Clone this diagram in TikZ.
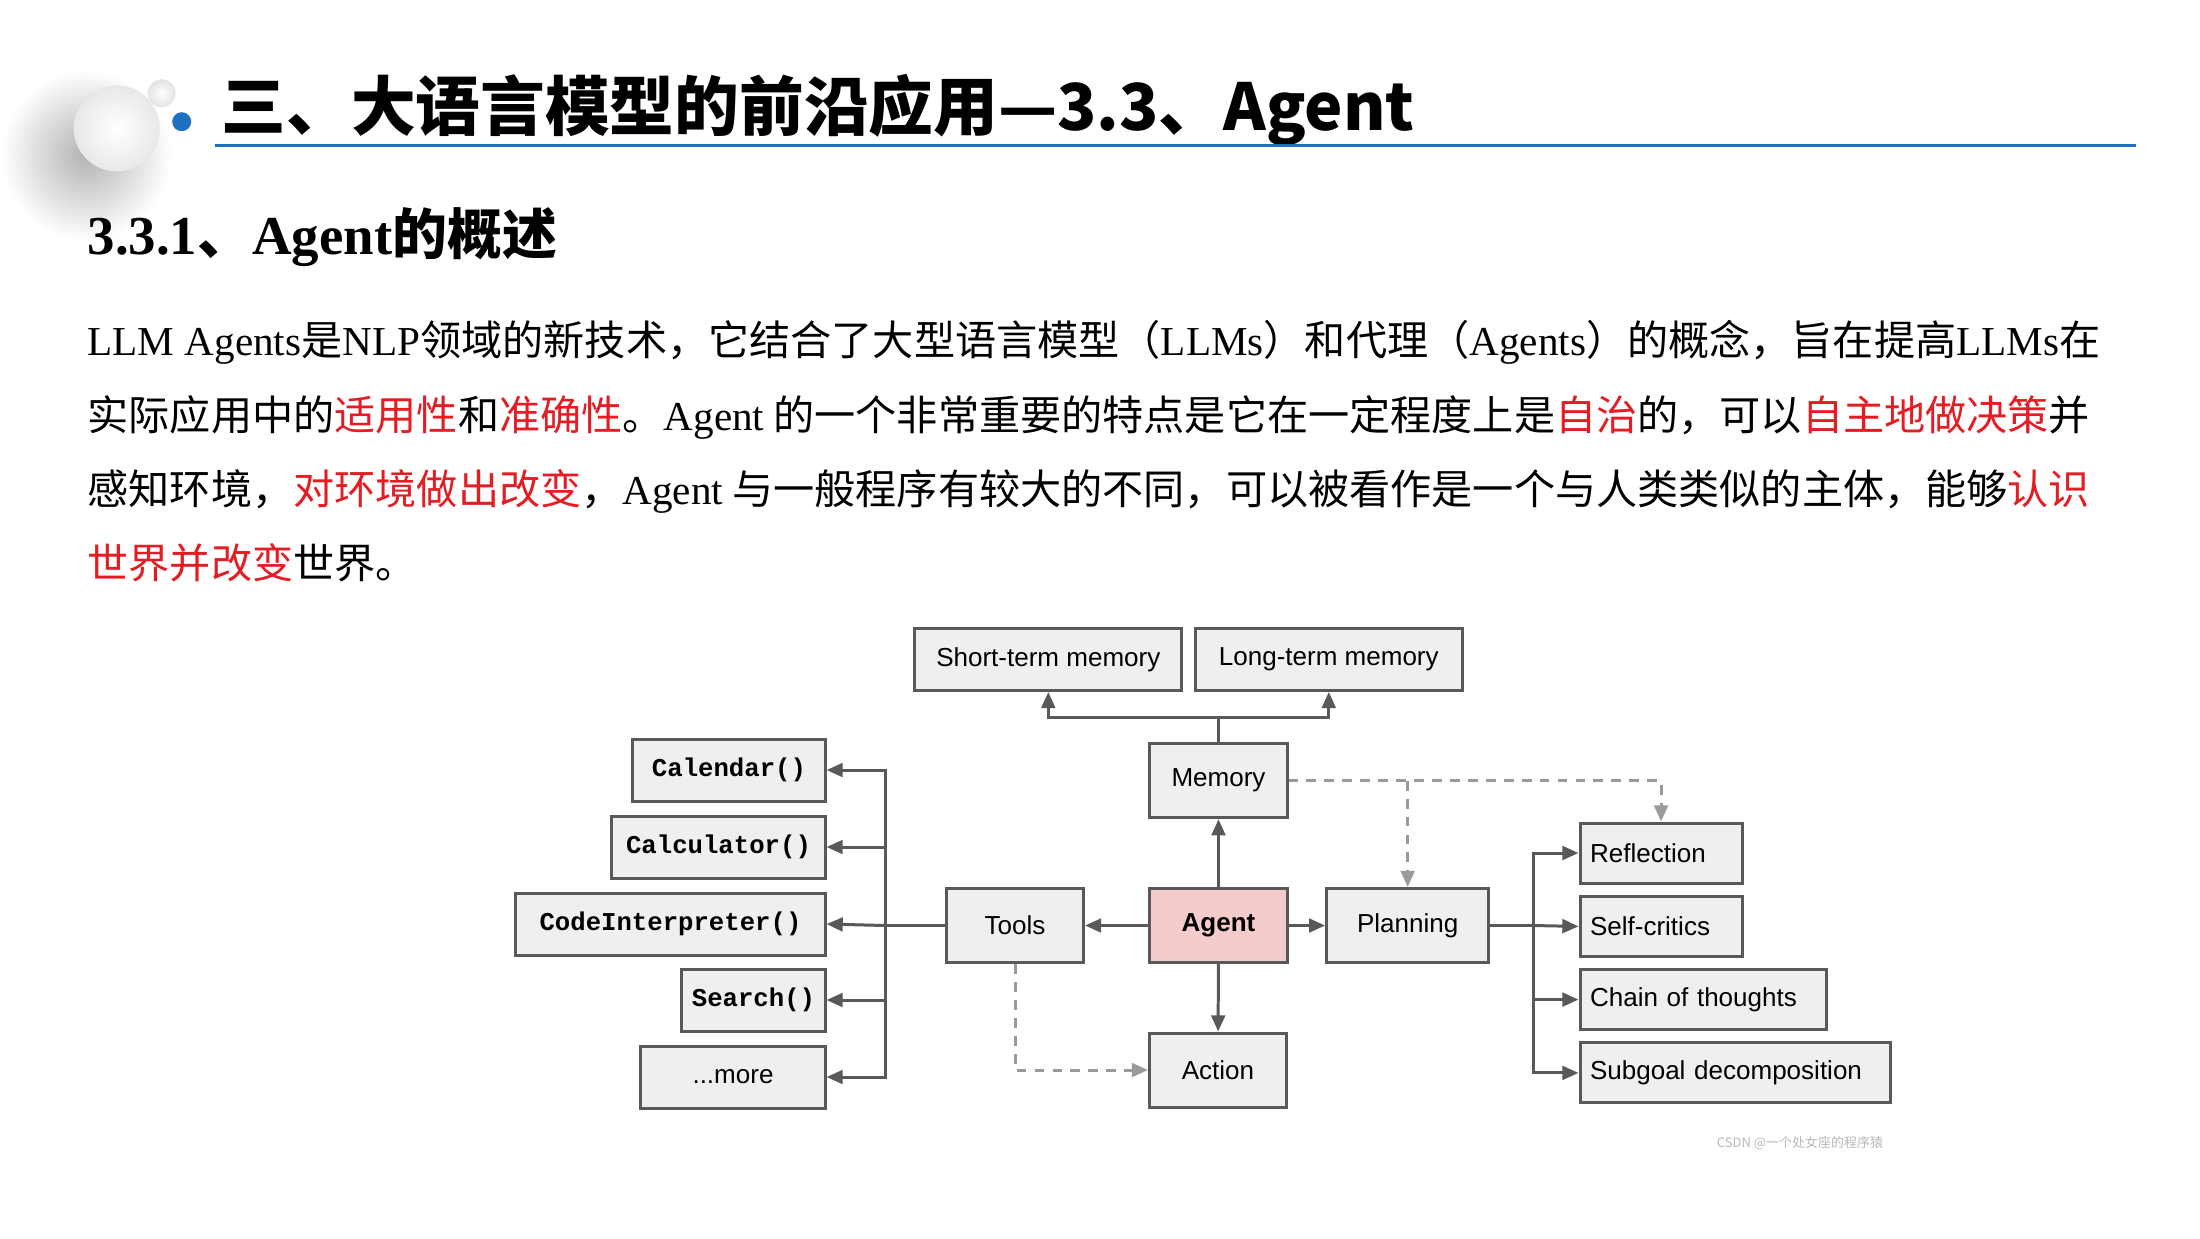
\documentclass[tikz,border=0pt]{standalone}
\usepackage{fontspec}
\setmainfont{Liberation Serif}
\newfontfamily\cjk{Noto Sans CJK SC}
\newfontfamily\arialf{Liberation Sans}
\newfontfamily\monof{Liberation Mono}
\usetikzlibrary{arrows.meta}
\definecolor{boxfill}{HTML}{EFEFEF}
\definecolor{boxline}{HTML}{595959}
\definecolor{agentfill}{HTML}{F4CCCC}
\definecolor{dashgray}{HTML}{9A9A9A}
\definecolor{hlred}{RGB}{228,28,36}
\definecolor{titleblue}{RGB}{30,112,192}
\newcommand\E[1]{{\rmfamily #1}}
\newcommand\R[1]{{\color{hlred}#1}}
\tikzset{
  dbox/.style={draw=boxline, fill=boxfill, line width=0.85pt, inner sep=0pt,
    font=\arialf\fontsize{7.4pt}{8.8pt}\selectfont, text=black},
  mbox/.style={dbox, font=\monof\bfseries\fontsize{7.3pt}{8.8pt}\selectfont},
  lbox/.style={dbox, align=left, inner xsep=2.85pt},
  conn/.style={draw=boxline, line width=0.85pt},
  arr/.style={conn, -{Triangle[length=4.6pt,width=3.9pt]}},
  darr/.style={draw=dashgray, line width=0.85pt, dash pattern=on 2.8pt off 2.3pt,
    -{Triangle[length=4.6pt,width=3.9pt]}},
  para/.style={anchor=base west, inner sep=0pt, font=\cjk\fontsize{11.7pt}{14pt}\selectfont}
}
\begin{document}
\begin{tikzpicture}[x=0.01cm, y=-0.01cm]
\useasboundingbox (0,0) rectangle (2200,1238);
\fill[white] (0,0) rectangle (2200,1238);
% decorative spheres
\shade[inner color=gray!60, outer color=white] (86,155) circle (0.85cm);
\shade[inner color=white, outer color=gray!18] (116.7,128.3) circle (0.43cm);
\shade[inner color=white, outer color=gray!22] (161.7,93.3) circle (0.14cm);
\fill[titleblue] (181.7,121.7) circle (0.095cm);
% title
\node[anchor=base west, inner sep=0pt, font=\cjk\bfseries\fontsize{18.4pt}{22pt}\selectfont] (title) at (221,130) {三、大语言模型的前沿应用—3.3、Agent};
\coordinate (tl1) at (215,145);
\coordinate (tl2) at (2136,145);
\draw[titleblue, line width=0.85pt] (tl1) -- (tl2);
% subtitle
\node[anchor=base west, inner sep=0pt, font=\bfseries\fontsize{15.6pt}{18pt}\selectfont] (sub) at (87,254) {3.3.1{\cjk\bfseries 、}Agent{\cjk\bfseries 的概述}};
% paragraph
\node[para] (p1) at (87,355) {\E{LLM Agents}是\E{NLP}领域的新技术，它结合了大型语言模型（\E{LLMs}）和代理（\E{Agents}）的概念，旨在提高\E{LLMs}在};
\node[para] (p2) at (87,430) {实际应用中的\R{适用性}和\R{准确性}。\E{Agent} 的一个非常重要的特点是它在一定程度上是\R{自治}的，可以\R{自主地做决策}并};
\node[para] (p3) at (87,504) {感知环境，\R{对环境做出改变}，\E{Agent} 与一般程序有较大的不同，可以被看作是一个与人类类似的主体，能够\R{认识}};
\node[para] (p4) at (87,578) {\R{世界并改变}世界。};
% diagram boxes
\node[dbox, minimum width=2.67cm, minimum height=0.62cm] (stm) at (1048.3,659.4) {Short-term memory};
\node[dbox, minimum width=2.67cm, minimum height=0.62cm] (ltm) at (1328.8,659.4) {Long-term memory};
\node[dbox, minimum width=1.37cm, minimum height=0.74cm] (mem) at (1218.5,780.7) {Memory};
\node[dbox, fill=agentfill, minimum width=1.37cm, minimum height=0.74cm, font=\arialf\bfseries\fontsize{7.4pt}{8.8pt}\selectfont] (agent) at (1218.5,925.5) {Agent};
\node[dbox, minimum width=1.37cm, minimum height=0.74cm] (tools) at (1015,925.5) {Tools};
\node[dbox, minimum width=1.62cm, minimum height=0.74cm] (plan) at (1407.7,925.5) {Planning};
\node[dbox, minimum width=1.37cm, minimum height=0.74cm] (action) at (1218,1070) {Action};
% tools
\node[mbox, minimum width=1.92cm, minimum height=0.62cm] (cal) at (729,770) {Calendar()};
\node[mbox, minimum width=2.13cm, minimum height=0.62cm] (calc) at (718.5,847) {Calculator()};
\node[mbox, minimum width=3.09cm, minimum height=0.62cm] (code) at (670.5,924) {CodeInterpreter()};
\node[mbox, minimum width=1.43cm, minimum height=0.62cm] (search) at (753.5,1000) {Search()};
\node[dbox, minimum width=1.84cm, minimum height=0.62cm] (more) at (733,1077) {...more};
% planning sub-boxes
\node[lbox, anchor=west, text width=1.42cm, minimum height=0.60cm] (refl) at (1578.5,853) {Reflection};
\node[lbox, anchor=west, text width=1.42cm, minimum height=0.60cm] (self) at (1578.5,926.4) {Self-critics};
\node[lbox, anchor=west, text width=2.26cm, minimum height=0.60cm] (chain) at (1578.5,999.6) {Chain of thoughts};
\node[lbox, anchor=west, text width=2.90cm, minimum height=0.60cm] (subg) at (1578.5,1072.9) {Subgoal decomposition};
% watermark
\node[anchor=center, inner sep=0pt, text=gray!55, font=\cjk\fontsize{3.7pt}{4.5pt}\selectfont] (wm) at (1800,1143) {CSDN @一个处女座的程序猿};
% connectors
\coordinate (mj) at (1218.5,717);
\draw[conn] (mem.north) -- (mj);
\draw[arr] (mj) -| (stm.south);
\draw[arr] (mj) -| (ltm.south);
\draw[arr] (agent) -- (mem);
\draw[arr] (agent) -- (tools);
\draw[arr] (agent) -- (plan);
\draw[arr] (agent) -- (action);
\coordinate (lj) at (885,925.5);
\draw[conn] (tools.west) -- (lj);
\draw[arr] (lj) |- (cal.east);
\draw[arr] (lj) |- (calc.east);
\draw[arr] (lj) -- (code.east);
\draw[arr] (lj) |- (search.east);
\draw[arr] (lj) |- (more.east);
\coordinate (rj) at (1533.6,925.5);
\draw[conn] (plan.east) -- (rj);
\draw[arr] (rj) |- (refl.west);
\draw[arr] (rj) -- (self.west);
\draw[arr] (rj) |- (chain.west);
\draw[arr] (rj) |- (subg.west);
\coordinate (dj) at (plan.north |- mem.east);
\draw[darr] (mem.east) -| (refl.north);
\draw[darr] (dj) -- (plan.north);
\draw[darr] (tools.south) |- (action.west);
\end{tikzpicture}
\end{document}
